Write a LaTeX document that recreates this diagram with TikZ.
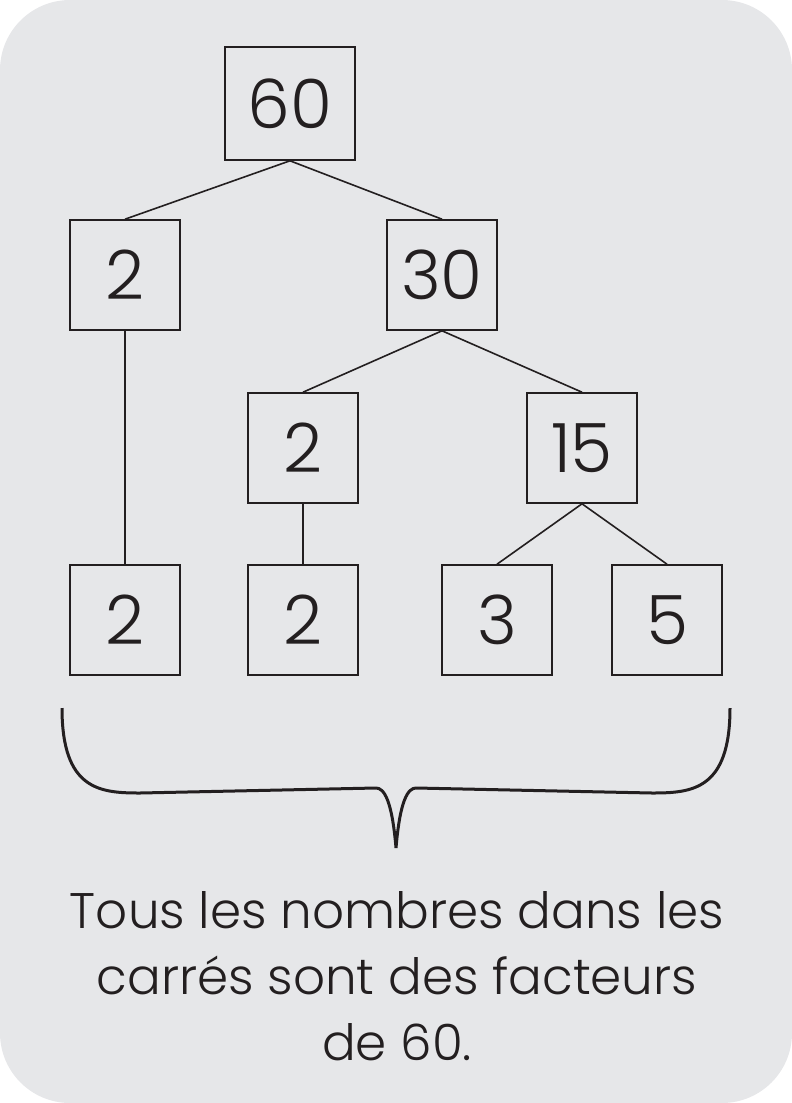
\documentclass[tikz,border=0pt]{standalone}
\usepackage{fontspec}
\setmainfont{Poppins Light}
\definecolor{fond}{HTML}{E6E7E9}
\definecolor{encre}{HTML}{231F20}
\tikzset{
  carre/.style={draw=encre, line width=1.6pt, minimum width=110pt, minimum height=110pt, inner sep=0pt, text=encre, font=\fontsize{68}{68}\selectfont},
  trait/.style={draw=encre, line width=1.6pt}
}
\begin{document}
\begin{tikzpicture}[x=1pt, y=-1pt]
    \useasboundingbox (0,0) rectangle (792,1103);
    % fond
                                        \fill[fond, rounded corners=70pt] (0,0) rectangle (792,1103);
    % arbre des facteurs
                                        \node[carre, minimum width=130pt, minimum height=113pt] (n60) at (290,103.5) {60};
                                        \node[carre] (n2a) at (125,275) {2};
                                        \node[carre] (n30) at (442,275) {30};
                                        \node[carre] (n2b) at (303,448) {2};
                                        \node[carre] (n15) at (582,448) {15};
                                        \node[carre] (n2c) at (125,620) {2};
                                        \node[carre] (n2d) at (303,620) {2};
                                        \node[carre] (n3) at (497,620) {3};
                                        \node[carre] (n5) at (667,620) {5};
                                        \draw[trait] (n60.south) -- (n2a.north);
                                        \draw[trait] (n60.south) -- (n30.north);
                                        \draw[trait] (n30.south) -- (n2b.north);
                                        \draw[trait] (n30.south) -- (n15.north);
                                        \draw[trait] (n2a.south) -- (n2c.north);
                                        \draw[trait] (n2b.south) -- (n2d.north);
                                        \draw[trait] (n15.south) -- (n3.north);
                                        \draw[trait] (n15.south) -- (n5.north);
    % accolade
                                        \draw[encre, line width=3pt] (62,708) .. controls (62,790) and (100,793) .. (140,793) -- (376,788) .. controls (384,788) and (392,800) .. (396,848) .. controls (400,800) and (408,788) .. (416,788) -- (652,793) .. controls (692,793) and (730,790) .. (730,708);
                                        \node[text=encre, align=center, font=\fontsize{50}{66}\selectfont] (legende) at (397,976) {Tous les nombres dans les\\carrés sont des facteurs\\de 60.};
    \end{tikzpicture}
\end{document}
